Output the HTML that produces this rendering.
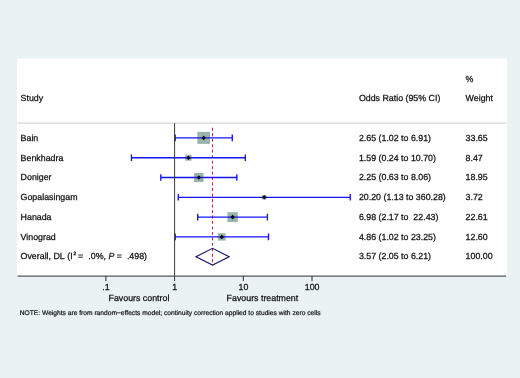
<!DOCTYPE html>
<html><head><meta charset="utf-8"><title>Forest plot</title>
<style>
html,body{margin:0;padding:0;background:#eaf2f3;}
body{width:520px;height:378px;overflow:hidden;}
svg{display:block;}
text{font-family:"Liberation Sans",Arial,Helvetica,sans-serif;fill:#111;stroke:#111;stroke-width:0.25px;text-rendering:geometricPrecision;}
.n{stroke-width:0.2px;}
.t{font-size:8.83px;}
.n{font-size:6.67px;}
</style></head><body>
<svg width="520" height="378" viewBox="0 0 520 378">
<rect x="0" y="0" width="520" height="378" fill="#eaf2f3"/>
<rect x="17" y="58.5" width="490" height="217.5" fill="#ffffff"/>
<line x1="17.5" y1="123.2" x2="506.3" y2="123.2" stroke="#d6d6d6" stroke-width="1.3"/>

<text class="t" x="20.6" y="101.25">Study</text>
<text class="t" x="358.9" y="101.25">Odds Ratio (95% CI)</text>
<text class="t" x="465.6" y="81.55">%</text>
<text class="t" x="465.6" y="101.25">Weight</text>
<line x1="212.5" y1="127.8" x2="212.5" y2="265.2" stroke="#963a42" stroke-width="1.05" stroke-dasharray="2.9 2.58"/>
<rect x="197.35" y="131.89" width="12.65" height="12.01" fill="#98b5ac"/>
<path d="M175.19 137.90H232.27M175.19 134.60V141.20M232.27 134.60V141.20" stroke="#1414f6" stroke-width="1.35" fill="none"/>
<path d="M201.53 137.90L203.68 135.60L205.83 137.90L203.68 140.20Z" fill="#000"/>
<text class="t" x="20.6" y="140.90">Bain</text>
<text class="t" x="358.9" y="140.90">2.65 (1.02 to 6.91)</text>
<text class="t" x="465.6" y="140.90">33.65</text>
<rect x="185.26" y="154.69" width="6.34" height="6.03" fill="#98b5ac"/>
<path d="M131.46 157.70H245.32M131.46 154.40V161.00M245.32 154.40V161.00" stroke="#1414f6" stroke-width="1.35" fill="none"/>
<path d="M186.29 157.70L188.44 155.40L190.59 157.70L188.44 160.00Z" fill="#000"/>
<text class="t" x="20.6" y="160.65">Benkhadra</text>
<text class="t" x="358.9" y="160.65">1.59 (0.24 to 10.70)</text>
<text class="t" x="465.6" y="160.65">8.47</text>
<rect x="194.05" y="172.99" width="9.49" height="9.02" fill="#98b5ac"/>
<path d="M160.81 177.50H236.87M160.81 174.20V180.80M236.87 174.20V180.80" stroke="#1414f6" stroke-width="1.35" fill="none"/>
<path d="M196.64 177.50L198.79 175.20L200.94 177.50L198.79 179.80Z" fill="#000"/>
<text class="t" x="20.6" y="180.40">Doniger</text>
<text class="t" x="358.9" y="180.40">2.25 (0.63 to 8.06)</text>
<text class="t" x="465.6" y="180.40">18.95</text>
<rect x="261.93" y="195.07" width="4.70" height="4.46" fill="#98b5ac"/>
<path d="M178.25 197.30H350.24M178.25 194.00V200.60M350.24 194.00V200.60" stroke="#1414f6" stroke-width="1.35" fill="none"/>
<path d="M262.13 197.30L264.28 195.00L266.43 197.30L264.28 199.60Z" fill="#000"/>
<text class="t" x="20.6" y="200.15">Gopalasingam</text>
<text class="t" x="358.9" y="200.15">20.20 (1.13 to 360.28)</text>
<text class="t" x="465.6" y="200.15">3.72</text>
<rect x="227.39" y="212.18" width="10.37" height="9.85" fill="#98b5ac"/>
<path d="M197.71 217.10H267.40M197.71 213.80V220.40M267.40 213.80V220.40" stroke="#1414f6" stroke-width="1.35" fill="none"/>
<path d="M230.42 217.10L232.57 214.80L234.72 217.10L232.57 219.40Z" fill="#000"/>
<text class="t" x="20.6" y="219.90">Hanada</text>
<text class="t" x="358.9" y="219.90">6.98 (2.17 to  22.43)</text>
<text class="t" x="465.6" y="219.90">22.61</text>
<rect x="217.90" y="233.22" width="7.74" height="7.35" fill="#98b5ac"/>
<path d="M175.19 236.90H268.47M175.19 233.60V240.20M268.47 233.60V240.20" stroke="#1414f6" stroke-width="1.35" fill="none"/>
<path d="M219.62 236.90L221.77 234.60L223.92 236.90L221.77 239.20Z" fill="#000"/>
<text class="t" x="20.6" y="239.65">Vinograd</text>
<text class="t" x="358.9" y="239.65">4.86 (1.02 to 23.25)</text>
<text class="t" x="465.6" y="239.65">12.60</text>
<path d="M196.02 256.70L212.57 248.30L229.09 256.70L212.57 265.10Z" fill="none" stroke="#1a1a6e" stroke-width="1.2" stroke-linejoin="miter"/>
<text class="t" x="20.6" y="259.40">Overall, DL <tspan x="67.3">(I</tspan><tspan font-size="4.7" dy="-4.8" x="73.4" stroke-width="0.35">2</tspan><tspan dy="4.8" x="78">=</tspan><tspan x="88.3">.0%,</tspan><tspan x="108.6" font-style="italic">P</tspan><tspan x="116.7">=</tspan><tspan x="126.9">.498)</tspan></text>
<text class="t" x="358.9" y="259.40">3.57 (2.05 to 6.21)</text>
<text class="t" x="465.6" y="259.40">100.00</text>
<line x1="174.6" y1="123.2" x2="174.6" y2="281.1" stroke="#303030" stroke-width="0.95"/>
<line x1="17.5" y1="276.1" x2="506.2" y2="276.1" stroke="#595959" stroke-width="1.1"/>
<line x1="105.90" y1="276.1" x2="105.90" y2="281.1" stroke="#2a2a2a" stroke-width="1"/>
<line x1="243.30" y1="276.1" x2="243.30" y2="281.1" stroke="#2a2a2a" stroke-width="1"/>
<line x1="312.00" y1="276.1" x2="312.00" y2="281.1" stroke="#2a2a2a" stroke-width="1"/>
<text class="t" text-anchor="middle" x="106.00" y="290.2">.1</text>
<text class="t" text-anchor="middle" x="174.70" y="290.2">1</text>
<text class="t" text-anchor="middle" x="243.40" y="290.2">10</text>
<text class="t" text-anchor="middle" x="312.10" y="290.2">100</text>
<text class="t" x="108.5" y="301.2">Favours control</text>
<text class="t" x="226.6" y="301.2">Favours treatment</text>
<text class="n" x="19.8" y="314.8">NOTE: Weights are from random−effects model; continuity correction applied to studies with zero cells</text>
</svg></body></html>
